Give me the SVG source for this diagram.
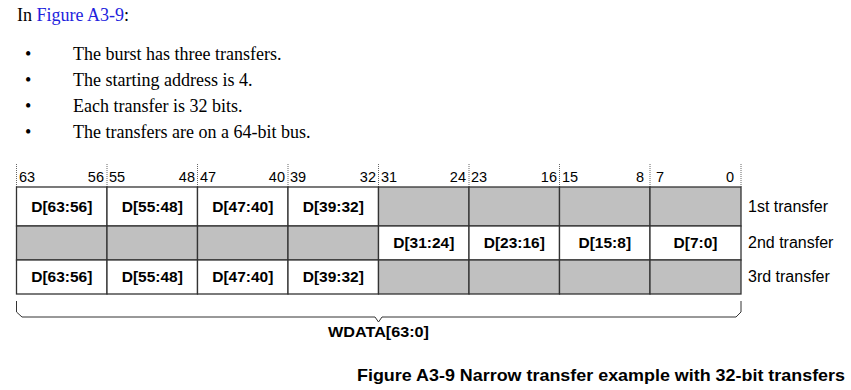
<svg xmlns="http://www.w3.org/2000/svg" width="851" height="390" viewBox="0 0 851 390">
<style>
.intro{font-family:"Liberation Serif","Times New Roman",serif;font-size:18px;fill:#000}
.link{fill:#2222dd}
.bit{font-family:"Liberation Sans",Arial,sans-serif;font-size:14.5px;fill:#000}
.cell{font-family:"Liberation Sans",Arial,sans-serif;font-size:15.5px;font-weight:bold;fill:#000;text-anchor:middle}
.row{font-family:"Liberation Sans",Arial,sans-serif;font-size:16px;fill:#000}
.w{fill:#fff;stroke:#333;stroke-width:1.3}
.g{fill:#c0c0c0;stroke:#333;stroke-width:1.3}
.dot{stroke:#666;stroke-width:1;stroke-dasharray:1 1;fill:none}
.cap{font-family:"Liberation Sans",Arial,sans-serif;font-weight:bold;fill:#000}
</style>
<rect width="851" height="390" fill="#fff"/>
<g id="intro">
<text class="intro" x="17" y="21">In <tspan class="link">Figure A3-9</tspan>:</text>
<text class="intro" x="25" y="60">•</text><text class="intro" x="73" y="60">The burst has three transfers.</text>
<text class="intro" x="25" y="86">•</text><text class="intro" x="73" y="86">The starting address is 4.</text>
<text class="intro" x="25" y="112">•</text><text class="intro" x="73" y="112">Each transfer is 32 bits.</text>
<text class="intro" x="25" y="138">•</text><text class="intro" x="73" y="138">The transfers are on a 64-bit bus.</text>
</g>
<g id="bit-ruler">
<path class="dot" d="M16.5 164V187M107 164V187M197.5 164V187M288 164V187M378.5 164V187M469 164V187M559.5 164V187M650 164V187M741 164V187"/>
<text class="bit" x="19" y="182">63</text><text class="bit" x="104" y="182" text-anchor="end">56</text>
<text class="bit" x="109" y="182">55</text><text class="bit" x="195" y="182" text-anchor="end">48</text>
<text class="bit" x="200" y="182">47</text><text class="bit" x="285" y="182" text-anchor="end">40</text>
<text class="bit" x="290" y="182">39</text><text class="bit" x="376" y="182" text-anchor="end">32</text>
<text class="bit" x="381" y="182">31</text><text class="bit" x="466" y="182" text-anchor="end">24</text>
<text class="bit" x="471" y="182">23</text><text class="bit" x="557" y="182" text-anchor="end">16</text>
<text class="bit" x="562" y="182">15</text><text class="bit" x="644" y="182" text-anchor="end">8</text>
<text class="bit" x="656" y="182">7</text><text class="bit" x="734" y="182" text-anchor="end">0</text>
</g>
<g id="transfer1">
<rect class="w" x="16.5" y="187" width="90.5" height="39"/><text class="cell" x="61.8" y="212">D[63:56]</text>
<rect class="w" x="107" y="187" width="90.5" height="39"/><text class="cell" x="152.3" y="212">D[55:48]</text>
<rect class="w" x="197.5" y="187" width="90.5" height="39"/><text class="cell" x="242.8" y="212">D[47:40]</text>
<rect class="w" x="288" y="187" width="90.5" height="39"/><text class="cell" x="333.3" y="212">D[39:32]</text>
<rect class="g" x="378.5" y="187" width="90.5" height="39"/>
<rect class="g" x="469" y="187" width="90.5" height="39"/>
<rect class="g" x="559.5" y="187" width="90.5" height="39"/>
<rect class="g" x="650" y="187" width="91" height="39"/>
<text class="row" x="748" y="212">1st transfer</text>
</g>
<g id="transfer2">
<rect class="g" x="16.5" y="226" width="90.5" height="34"/>
<rect class="g" x="107" y="226" width="90.5" height="34"/>
<rect class="g" x="197.5" y="226" width="90.5" height="34"/>
<rect class="g" x="288" y="226" width="90.5" height="34"/>
<rect class="w" x="378.5" y="226" width="90.5" height="34"/><text class="cell" x="423.8" y="248">D[31:24]</text>
<rect class="w" x="469" y="226" width="90.5" height="34"/><text class="cell" x="514.3" y="248">D[23:16]</text>
<rect class="w" x="559.5" y="226" width="90.5" height="34"/><text class="cell" x="604.8" y="248">D[15:8]</text>
<rect class="w" x="650" y="226" width="91" height="34"/><text class="cell" x="695.5" y="248">D[7:0]</text>
<text class="row" x="748" y="248">2nd transfer</text>
</g>
<g id="transfer3">
<rect class="w" x="16.5" y="260" width="90.5" height="34"/><text class="cell" x="61.8" y="282">D[63:56]</text>
<rect class="w" x="107" y="260" width="90.5" height="34"/><text class="cell" x="152.3" y="282">D[55:48]</text>
<rect class="w" x="197.5" y="260" width="90.5" height="34"/><text class="cell" x="242.8" y="282">D[47:40]</text>
<rect class="w" x="288" y="260" width="90.5" height="34"/><text class="cell" x="333.3" y="282">D[39:32]</text>
<rect class="g" x="378.5" y="260" width="90.5" height="34"/>
<rect class="g" x="469" y="260" width="90.5" height="34"/>
<rect class="g" x="559.5" y="260" width="90.5" height="34"/>
<rect class="g" x="650" y="260" width="91" height="34"/>
<text class="row" x="748" y="282">3rd transfer</text>
</g>
<g id="bracket">
<path d="M16.5 301V312L22 317H375L378.5 322L382 317H736L741 312V301" fill="none" stroke="#333" stroke-width="1"/>
<text class="cap" x="378.5" y="337" font-size="15" text-anchor="middle" textLength="101" lengthAdjust="spacingAndGlyphs">WDATA[63:0]</text>
</g>
<g id="caption">
<text class="cap" x="357" y="381" font-size="17" textLength="488" lengthAdjust="spacingAndGlyphs">Figure A3-9 Narrow transfer example with 32-bit transfers</text>
</g>
</svg>
